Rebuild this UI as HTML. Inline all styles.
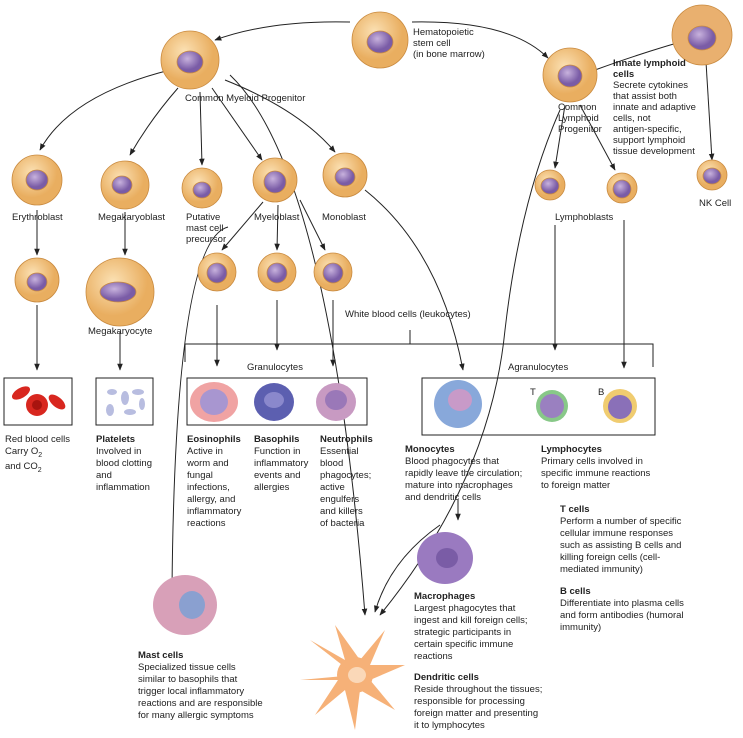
<!DOCTYPE html>
<html><head><meta charset="utf-8"><style>
html,body{margin:0;padding:0;background:#fff}
svg{display:block}
text{font-family:"Liberation Sans",sans-serif;font-size:9.5px;fill:#222}
.b{font-weight:bold}
</style></head><body>
<svg width="743" height="738" viewBox="0 0 743 738" xmlns="http://www.w3.org/2000/svg">
<defs>
<marker id="a" viewBox="0 0 10 10" refX="9" refY="5" markerWidth="7" markerHeight="7" orient="auto"><path d="M0,1 L10,5 L0,9 z" fill="#222"/></marker>
<radialGradient id="c" cx="40%" cy="35%"><stop offset="0" stop-color="#fbe1b4"/><stop offset="1" stop-color="#e9ae60"/></radialGradient>
<radialGradient id="n" cx="40%" cy="35%"><stop offset="0" stop-color="#c8b2dd"/><stop offset="1" stop-color="#7a5ca6"/></radialGradient>
</defs>
<g stroke="#222" stroke-width="1" fill="none" marker-end="url(#a)">
<path d="M350,22 Q270,20 215,40"/>
<path d="M412,22 Q510,20 548,58"/>
<path d="M170,70 Q70,95 40,150"/>
<path d="M178,88 Q150,120 130,155"/>
<path d="M200,92 L202,165"/>
<path d="M212,88 L262,160"/>
<path d="M225,80 Q300,110 335,152"/>
<path d="M230,75 Q330,170 365,615"/>
<path d="M595,70 Q650,50 695,38"/>
<path d="M706,62 L712,160"/>
<path d="M565,105 L555,168"/>
<path d="M580,105 L615,170"/>
<path d="M37,210 L37,255"/>
<path d="M125,212 L125,255"/>
<path d="M278,205 L277,250"/>
<path d="M263,202 L222,250"/>
<path d="M300,200 L325,250"/>
<path d="M37,305 L37,370"/>
<path d="M120,332 L120,370"/>
<path d="M217,305 L217,366"/>
<path d="M277,300 L277,350"/>
<path d="M333,300 L333,366"/>
<path d="M555,225 L555,350"/>
<path d="M624,220 L624,368"/>
<path d="M365,190 Q440,250 463,370"/>
<path d="M228,227 Q175,240 172,590"/>
<path d="M560,110 Q520,200 505,330 Q490,480 380,615"/>
<path d="M458,500 L458,520"/>
<path d="M440,525 Q390,560 375,612"/>
</g>
<path d="M185,362 L185,344 L653,344 L653,367 M410,330 L410,344" stroke="#222" fill="none"/>
<rect x="4" y="378" width="68" height="47" fill="none" stroke="#222"/>
<rect x="96" y="378" width="57" height="47" fill="none" stroke="#222"/>
<rect x="187" y="378" width="180" height="47" fill="none" stroke="#222"/>
<rect x="422" y="378" width="233" height="57" fill="none" stroke="#222"/>
<g stroke="#c98a3f" stroke-width="0.8">
<circle cx="380" cy="40" r="28" fill="url(#c)"/><ellipse cx="380" cy="42" rx="13" ry="11" fill="url(#n)"/>
<circle cx="190" cy="60" r="29" fill="url(#c)"/><ellipse cx="190" cy="62" rx="13" ry="11" fill="url(#n)"/>
<circle cx="570" cy="75" r="27" fill="url(#c)"/><ellipse cx="570" cy="76" rx="12" ry="11" fill="url(#n)"/>
<circle cx="702" cy="35" r="30" fill="#e9b06f"/><ellipse cx="702" cy="38" rx="14" ry="12" fill="url(#n)"/>
<circle cx="37" cy="180" r="25" fill="url(#c)"/><ellipse cx="37" cy="180" rx="11" ry="10" fill="url(#n)"/>
<circle cx="125" cy="185" r="24" fill="url(#c)"/><ellipse cx="122" cy="185" rx="10" ry="9" fill="url(#n)"/>
<circle cx="202" cy="188" r="20" fill="url(#c)"/><ellipse cx="202" cy="190" rx="9" ry="8" fill="url(#n)"/>
<circle cx="275" cy="180" r="22" fill="url(#c)"/><ellipse cx="275" cy="182" rx="11" ry="11" fill="url(#n)"/>
<circle cx="345" cy="175" r="22" fill="url(#c)"/><ellipse cx="345" cy="177" rx="10" ry="9" fill="url(#n)"/>
<circle cx="550" cy="185" r="15" fill="url(#c)"/><ellipse cx="550" cy="186" rx="9" ry="8" fill="url(#n)"/>
<circle cx="622" cy="188" r="15" fill="url(#c)"/><ellipse cx="622" cy="189" rx="9" ry="9" fill="url(#n)"/>
<circle cx="712" cy="175" r="15" fill="url(#c)"/><ellipse cx="712" cy="176" rx="9" ry="8" fill="url(#n)"/>
<circle cx="37" cy="280" r="22" fill="url(#c)"/><ellipse cx="37" cy="282" rx="10" ry="9" fill="url(#n)"/>
<circle cx="120" cy="292" r="34" fill="url(#c)"/><ellipse cx="118" cy="292" rx="18" ry="10" fill="url(#n)"/>
<circle cx="217" cy="272" r="19" fill="url(#c)"/><ellipse cx="217" cy="273" rx="10" ry="10" fill="url(#n)"/>
<circle cx="277" cy="272" r="19" fill="url(#c)"/><ellipse cx="277" cy="273" rx="10" ry="10" fill="url(#n)"/>
<circle cx="333" cy="272" r="19" fill="url(#c)"/><ellipse cx="333" cy="273" rx="10" ry="10" fill="url(#n)"/>
</g>
<g stroke="none">
<ellipse cx="21" cy="393" rx="10" ry="5" fill="#d8271f" transform="rotate(-30 21 393)"/>
<circle cx="37" cy="405" r="11" fill="#d8271f"/><circle cx="37" cy="405" r="5" fill="#a8140f"/>
<ellipse cx="57" cy="402" rx="10" ry="5" fill="#d8271f" transform="rotate(40 57 402)"/>
<g fill="#b8bde0"><ellipse cx="112" cy="392" rx="5" ry="3"/><ellipse cx="125" cy="398" rx="4" ry="7"/><ellipse cx="138" cy="392" rx="6" ry="3"/><ellipse cx="110" cy="410" rx="4" ry="6"/><ellipse cx="130" cy="412" rx="6" ry="3"/><ellipse cx="142" cy="404" rx="3" ry="6"/></g>
<ellipse cx="214" cy="402" rx="24" ry="20" fill="#f0a3a3"/><ellipse cx="214" cy="402" rx="14" ry="13" fill="#a896d0"/>
<ellipse cx="274" cy="402" rx="20" ry="19" fill="#5c5fb0"/><ellipse cx="274" cy="400" rx="10" ry="8" fill="#8a88cc"/>
<ellipse cx="336" cy="402" rx="20" ry="19" fill="#c89ac2"/><ellipse cx="336" cy="400" rx="11" ry="10" fill="#9a78b8"/>
<ellipse cx="458" cy="404" rx="24" ry="24" fill="#88a8da"/><ellipse cx="460" cy="400" rx="12" ry="11" fill="#c89ac8"/>
<circle cx="552" cy="406" r="16" fill="#88c888"/><circle cx="552" cy="406" r="12" fill="#9a80c0"/>
<circle cx="620" cy="406" r="17" fill="#f0cc70"/><circle cx="620" cy="407" r="12" fill="#8a70b8"/>
<ellipse cx="445" cy="558" rx="28" ry="26" fill="#9a7ac0"/><ellipse cx="447" cy="558" rx="11" ry="10" fill="#7a5ca6"/>
<ellipse cx="185" cy="605" rx="32" ry="30" fill="#d8a0b8"/><ellipse cx="192" cy="605" rx="13" ry="14" fill="#8aa0d0"/>
<g fill="#f6b178"><circle cx="355" cy="675" r="18"/><path d="M355,675 L310,640 L345,660 L335,625 L360,660 L385,630 L370,665 L405,665 L370,680 L395,710 L360,690 L355,730 L345,690 L315,715 L338,680 L300,680 z"/></g>
<ellipse cx="357" cy="675" rx="9" ry="8" fill="#fad8b8"/>
</g>
<text x="413" y="35">Hematopoietic</text><text x="413" y="46">stem cell</text><text x="413" y="57">(in bone marrow)</text>
<text x="185" y="101">Common Myeloid Progenitor</text>
<text x="558" y="110">Common</text><text x="558" y="121">Lymphoid</text><text x="558" y="132">Progenitor</text>
<text x="613" y="66" class="b">Innate lymphoid</text><text x="613" y="77" class="b">cells</text>
<text x="613" y="88">Secrete cytokines</text><text x="613" y="99">that assist both</text><text x="613" y="110">innate and adaptive</text><text x="613" y="121">cells, not</text><text x="613" y="132">antigen-specific,</text><text x="613" y="143">support lymphoid</text><text x="613" y="154">tissue development</text>
<text x="699" y="206">NK Cell</text>
<text x="12" y="220">Erythroblast</text><text x="98" y="220">Megakaryoblast</text>
<text x="186" y="220">Putative</text><text x="186" y="231">mast cell</text><text x="186" y="242">precursor</text>
<text x="254" y="220">Myeloblast</text><text x="322" y="220">Monoblast</text>
<text x="555" y="220">Lymphoblasts</text>
<text x="88" y="334">Megakaryocyte</text>
<text x="345" y="317">White blood cells (leukocytes)</text>
<text x="247" y="370">Granulocytes</text><text x="508" y="370">Agranulocytes</text>
<text x="530" y="395">T</text><text x="598" y="395">B</text>
<text x="5" y="442">Red blood cells</text><text x="5" y="454">Carry O<tspan font-size="7" dy="3">2</tspan></text><text x="5" y="469">and CO<tspan font-size="7" dy="3">2</tspan></text>
<text x="96" y="442" class="b">Platelets</text><text x="96" y="454">Involved in</text><text x="96" y="466">blood clotting</text><text x="96" y="478">and</text><text x="96" y="490">inflammation</text>
<text x="187" y="442" class="b">Eosinophils</text><text x="187" y="454">Active in</text><text x="187" y="466">worm and</text><text x="187" y="478">fungal</text><text x="187" y="490">infections,</text><text x="187" y="502">allergy, and</text><text x="187" y="514">inflammatory</text><text x="187" y="526">reactions</text>
<text x="254" y="442" class="b">Basophils</text><text x="254" y="454">Function in</text><text x="254" y="466">inflammatory</text><text x="254" y="478">events and</text><text x="254" y="490">allergies</text>
<text x="320" y="442" class="b">Neutrophils</text><text x="320" y="454">Essential</text><text x="320" y="466">blood</text><text x="320" y="478">phagocytes;</text><text x="320" y="490">active</text><text x="320" y="502">engulfers</text><text x="320" y="514">and killers</text><text x="320" y="526">of bacteria</text>
<text x="405" y="452" class="b">Monocytes</text><text x="405" y="464">Blood phagocytes that</text><text x="405" y="476">rapidly leave the circulation;</text><text x="405" y="488">mature into macrophages</text><text x="405" y="500">and dendritic cells</text>
<text x="541" y="452" class="b">Lymphocytes</text><text x="541" y="464">Primary cells involved in</text><text x="541" y="476">specific immune reactions</text><text x="541" y="488">to foreign matter</text>
<text x="560" y="512" class="b">T cells</text><text x="560" y="524">Perform a number of specific</text><text x="560" y="536">cellular immune responses</text><text x="560" y="548">such as assisting B cells and</text><text x="560" y="560">killing foreign cells (cell-</text><text x="560" y="572">mediated immunity)</text>
<text x="560" y="594" class="b">B cells</text><text x="560" y="606">Differentiate into plasma cells</text><text x="560" y="618">and form antibodies (humoral</text><text x="560" y="630">immunity)</text>
<text x="414" y="599" class="b">Macrophages</text><text x="414" y="611">Largest phagocytes that</text><text x="414" y="623">ingest and kill foreign cells;</text><text x="414" y="635">strategic participants in</text><text x="414" y="647">certain specific immune</text><text x="414" y="659">reactions</text>
<text x="414" y="680" class="b">Dendritic cells</text><text x="414" y="692">Reside throughout the tissues;</text><text x="414" y="704">responsible for processing</text><text x="414" y="716">foreign matter and presenting</text><text x="414" y="728">it to lymphocytes</text>
<text x="138" y="658" class="b">Mast cells</text><text x="138" y="670">Specialized tissue cells</text><text x="138" y="682">similar to basophils that</text><text x="138" y="694">trigger local inflammatory</text><text x="138" y="706">reactions and are responsible</text><text x="138" y="718">for many allergic symptoms</text>
</svg>
</body></html>
